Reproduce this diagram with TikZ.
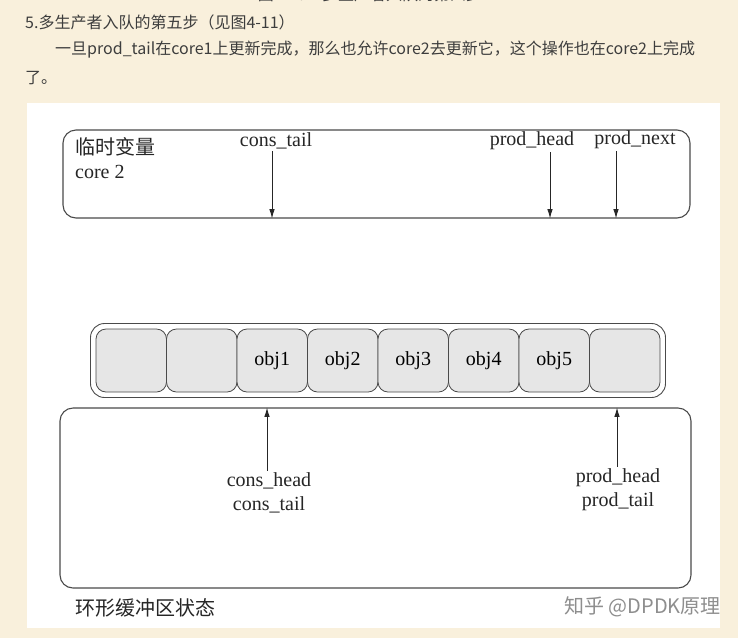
\documentclass[tikz,border=0pt]{standalone}
\usepackage{fontspec}
\setmainfont{Liberation Serif}
\newfontfamily\cjk{Noto Sans CJK SC}
\usetikzlibrary{arrows.meta,positioning,fit}
\definecolor{paper}{HTML}{F9F0DC}
\definecolor{ink}{HTML}{3D3D3D}
\definecolor{edge}{HTML}{4A4A4A}
\definecolor{cellgray}{HTML}{E6E6E6}
\definecolor{mark}{HTML}{8E8E8E}

\begin{document}
\begin{tikzpicture}[
  x=1pt,y=-1pt,
  webtext/.style={font=\cjk\fontsize{16}{20}\selectfont,text=ink,anchor=west,inner sep=0pt},
  tag/.style={font=\fontsize{20}{24}\selectfont,text=black!85,align=center,inner sep=2pt},
  panel/.style={draw=edge,line width=1.1pt,rounded corners=13pt,inner sep=0pt},
  ring/.style={draw=edge,line width=.9pt,rounded corners=14pt},
  slot/.style={draw=edge,fill=cellgray,line width=.8pt,rounded corners=10pt,
    minimum width=70.5pt,minimum height=63pt,inner sep=0pt,outer sep=0pt,
    font=\fontsize{20}{24}\selectfont},
  arr/.style={-{Latex[length=9.5pt,width=5.5pt]},draw=black!85,line width=.9pt}
]
\useasboundingbox (0,0) rectangle (738,638);
\fill[paper] (0,0) rectangle (738,638);
\fill[white] (27,103) rectangle (720,628);

% article text around the figure
\node[webtext,anchor=center] (cap) at (370,-6) {图4-10\quad 多生产者入队的第四步};
\node[webtext] (step) at (25,22) {5.多生产者入队的第五步（见图4-11）};
\node[webtext] (para) at (55,50)
{一旦prod\_tail在core1上更新完成，那么也允许core2去更新它，这个操作也在core2上完成};
\node[webtext] (tail) at (25,78) {了。};

% temporary variables of core 2
\node[panel,minimum width=627pt,minimum height=88pt] (tmp) at (376.5,174) {};
\node[tag,align=left,anchor=west] (tmpname) at (73,158) {{\cjk 临时变量}\\core 2};
\node[tag] (ctail) at (276,141) {cons\_tail};
\node[tag] (phead) at (532,141) {prod\_head};
\node[tag] (pnext) at (635,140) {prod\_next};
\coordinate (ct) at ([xshift=-4pt]ctail.south);
\coordinate (ph) at ([xshift=18pt]phead.south);
\coordinate (pn) at ([xshift=-19pt]pnext.south);
\draw[arr] (ct) -- (ct |- tmp.south);
\draw[arr] (ph) -- (ph |- tmp.south);
\draw[arr] (pn) -- (pn |- tmp.south);

% ring slots
\node[slot] (c1) at (131.25,360.5) {};
\node[slot,right=0pt of c1] (c2) {};
\node[slot,right=0pt of c2] (c3) {obj1};
\node[slot,right=0pt of c3] (c4) {obj2};
\node[slot,right=0pt of c4] (c5) {obj3};
\node[slot,right=0pt of c5] (c6) {obj4};
\node[slot,right=0pt of c6] (c7) {obj5};
\node[slot,right=0pt of c7] (c8) {};
\node[ring,fit=(c1)(c8),inner sep=5.5pt] (buf) {};

% ring state
\node[panel,minimum width=631pt,minimum height=180pt] (low) at (375.5,498) {};
\node[tag] (cons) at (269,493) {cons\_head\\cons\_tail};
\node[tag] (prod) at (618,490) {prod\_head\\prod\_tail};
\coordinate (cu) at ([xshift=-2pt]cons.north);
\coordinate (pu) at ([xshift=-1pt]prod.north);
\draw[arr] (cu) -- (cu |- low.north);
\draw[arr] (pu) -- (pu |- low.north);
\node[anchor=west,inner sep=0pt,font=\cjk\fontsize{20}{24}\selectfont,text=black!85]
  (ringname) at (75,608) {环形缓冲区状态};
\node[anchor=east,inner sep=0pt,font=\cjk\fontsize{20}{24}\selectfont,text=mark]
  (wmark) at (721,607) {知乎 @DPDK原理};
\end{tikzpicture}
\end{document}
